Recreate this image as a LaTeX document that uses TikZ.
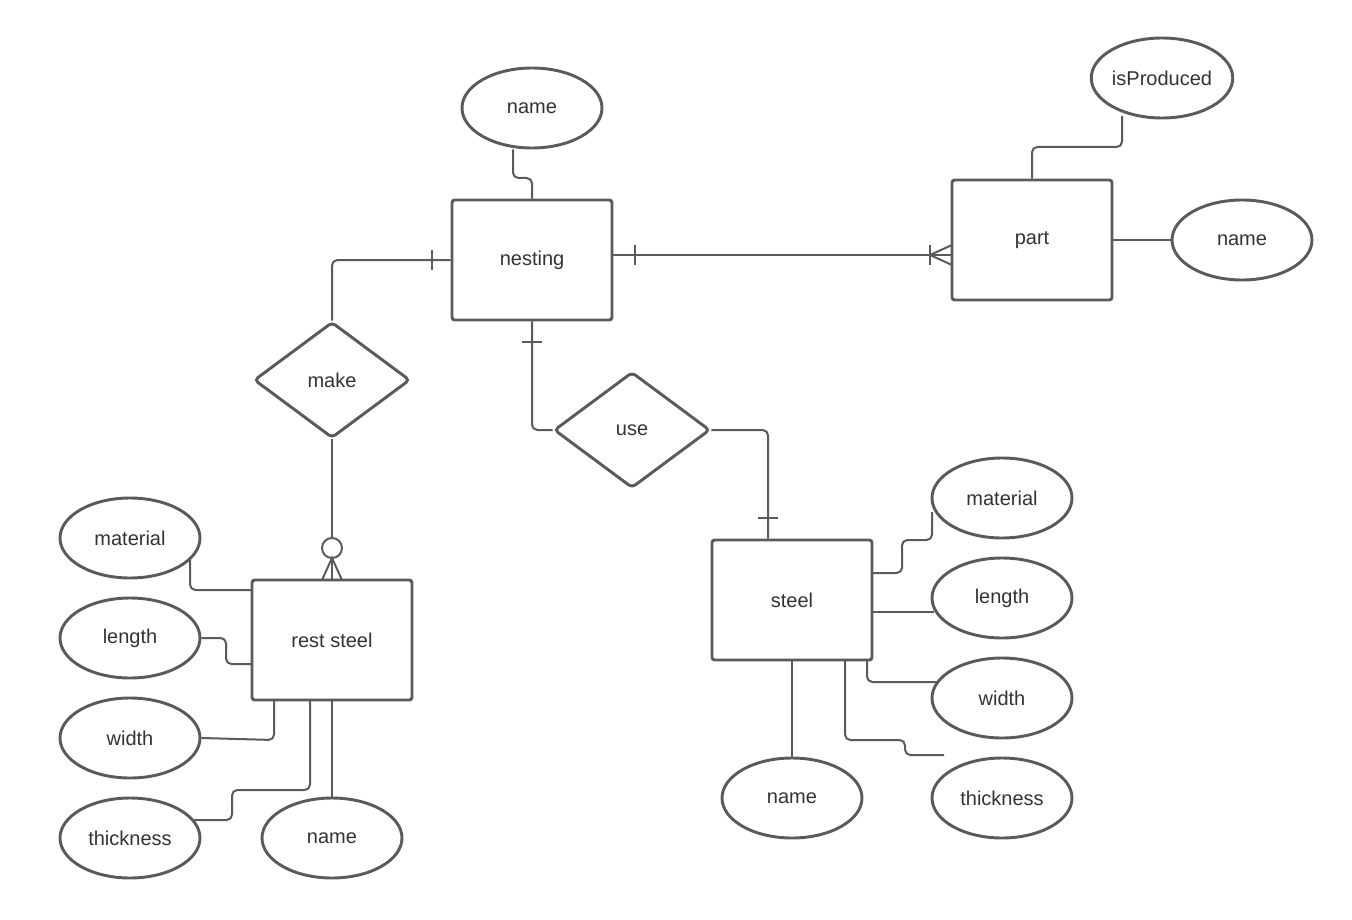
\documentclass[tikz,border=0pt]{standalone}
\usepackage{fontspec}
\setmainfont{Liberation Sans}
\usetikzlibrary{shapes.geometric}
\definecolor{ln}{HTML}{5A5A5A}
\definecolor{tx}{HTML}{333333}
\begin{document}
\begin{tikzpicture}[x=0.75pt,y=-0.75pt,
 every node/.style={text=tx,font=\fontsize{15}{18}\selectfont},
 ent/.style={draw=ln,line width=2.2pt,rounded corners=2pt,minimum width=120pt,minimum height=90pt,inner sep=0pt},
 att/.style={ellipse,draw=ln,line width=2.2pt,minimum width=105pt,minimum height=60pt,inner sep=0pt},
 rel/.style={diamond,draw=ln,line width=2.2pt,rounded corners=3pt,minimum width=117pt,minimum height=87pt,inner sep=0pt,aspect=1.35},
 cn/.style={draw=ln,line width=1.5pt,rounded corners=4pt}]
\useasboundingbox (0,0) rectangle (1352,920);
\node[ent] (nest) at (532,260) {nesting};
\node[ent] (part) at (1032,240) {part};
\node[ent] (rest) at (332,640) {rest steel};
\node[ent] (steel) at (792,600) {steel};
\node[rel] (make) at (332,380) {make};
\node[rel] (use) at (632,430) {use};
\node[att] (nname) at (532,108) {name};
\node[att] (isp) at (1162,78) {isProduced};
\node[att] (pname) at (1242,240) {name};
\node[att] (smat) at (1002,498) {material};
\node[att] (slen) at (1002,598) {length};
\node[att] (swid) at (1002,698) {width};
\node[att] (sthk) at (1002,798) {thickness};
\node[att] (sname) at (792,798) {name};
\node[att] (rmat) at (130,538) {material};
\node[att] (rlen) at (130,638) {length};
\node[att] (rwid) at (130,738) {width};
\node[att] (rthk) at (130,838) {thickness};
\node[att] (rname) at (332,838) {name};
% attribute connectors
\draw[cn] (nest.north) -- (532,178) -- (513,178) -- (nname.south -| 513,0);
\draw[cn] (part.north) -- (1032,147) -- (1122,147) -- (1122,116);
\draw[cn] (part.east) -- (pname.west);
\draw[cn] (872,573) -- (902,573) -- (902,540) -- (932,540) -- (932,512);
\draw[cn] (872,612) -- (934,612);
\draw[cn] (867,660) -- (867,682) -- (937,682);
\draw[cn] (845,660) -- (845,740) -- (905,740) -- (905,755) -- (944,755);
\draw[cn] (steel.south) -- (sname.north);
\draw[cn] (190,560) -- (190,590) -- (252,590);
\draw[cn] (rlen.east) -- (226,638) -- (226,664) -- (252,664);
\draw[cn] (rwid.east) -- (274,740) -- (274,700);
\draw[cn] (194,820) -- (232,820) -- (232,790) -- (310,790) -- (310,700);
\draw[cn] (rname.north) -- (rest.south);
% relationships
\draw[cn] (nest.east |- 0,255) -- (part.west |- 0,255);
\draw[cn] (635,245) -- (635,265);
\draw[cn] (930,245) -- (930,265);
\draw[cn] (930,255) -- (952,245) (930,255) -- (952,265);
\draw[cn] (nest.west) -- (332,260) -- (make.north);
\draw[cn] (432,250) -- (432,270);
\draw[cn] (make.south) -- (332,538);
\draw[draw=ln,line width=1.5pt] (332,548) circle (10);
\draw[cn] (332,558) -- (rest.north);
\draw[cn,rounded corners=0] (322,580) -- (332,558) -- (342,580);
\draw[cn] (nest.south) -- (532,430) -- (use.west);
\draw[cn] (522,342) -- (542,342);
\draw[cn] (use.east) -- (768,430) -- (steel.north -| 768,0);
\draw[cn] (758,518) -- (778,518);
\end{tikzpicture}
\end{document}
